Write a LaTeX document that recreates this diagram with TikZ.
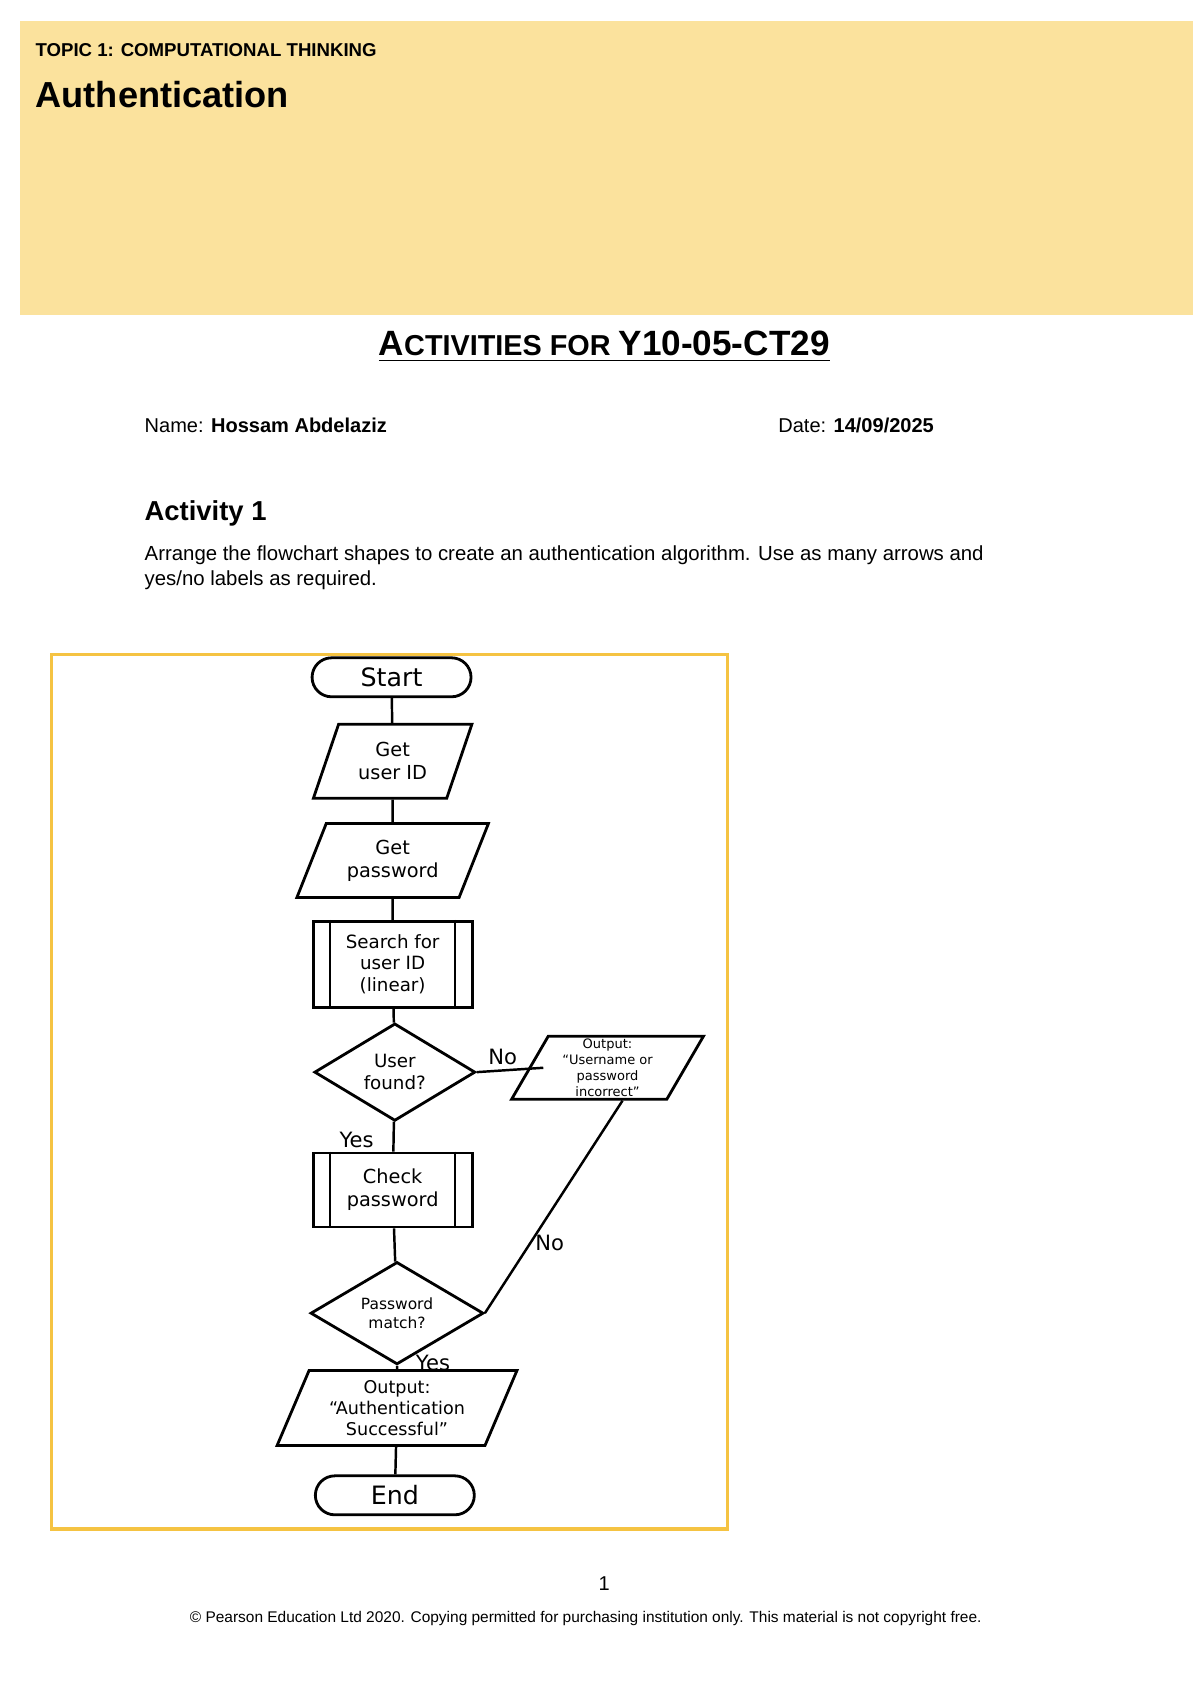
\documentclass[tikz,border=0pt]{standalone}
\usepackage{fontspec}
\setmainfont{Liberation Sans}
\newfontfamily\flowfont{DejaVu Sans}
\usetikzlibrary{shapes.geometric,shapes.misc,positioning}
\definecolor{headyellow}{HTML}{FBE29D}
\definecolor{frameorange}{HTML}{F5C342}
\tikzset{
  line/.style={line width=0.7pt},
  term/.style={rounded rectangle, draw, line width=0.8pt, minimum width=1.59cm, minimum height=0.39cm, inner sep=0pt, font=\flowfont\fontsize{7.2}{8}\selectfont},
  io/.style={trapezium, trapezium stretches=true, draw, line width=0.8pt, inner sep=0pt, align=center, font=\flowfont\fontsize{5.5}{6.6}\selectfont},
  proc/.style={rectangle, draw, line width=0.8pt, minimum width=1.59cm, inner sep=0pt, align=center, font=\flowfont\fontsize{5.2}{6.2}\selectfont},
  dec/.style={diamond, draw, line width=0.8pt, inner sep=0pt, align=center, font=\flowfont\fontsize{5.2}{6.2}\selectfont},
  lbl/.style={inner sep=0pt, font=\flowfont\fontsize{6}{7}\selectfont}
}
\begin{document}
\begin{tikzpicture}[x=0.010909cm, y=-0.010909cm]
\useasboundingbox (0,0) rectangle (1100,1555);
% header
\fill[headyellow] (18,19) rectangle (1094,289);
\node[anchor=west, inner sep=0pt, font=\bfseries\fontsize{5.3}{6}\selectfont] (topic) at (32,46) {TOPIC 1: COMPUTATIONAL THINKING};
\node[anchor=west, inner sep=0pt, font=\bfseries\fontsize{10.3}{12}\selectfont] (title) at (32,87) {Authentication};
\node[inner sep=0pt, font=\bfseries] (act) at (554,318) {\underline{{\fontsize{10}{11}\selectfont A}{\fontsize{8.2}{9}\selectfont CTIVITIES FOR }{\fontsize{10}{11}\selectfont Y10-05-CT29}}};
\node[anchor=west, inner sep=0pt, font=\fontsize{5.7}{7}\selectfont] (name) at (132,390) {Name: \textbf{Hossam Abdelaziz}};
\node[anchor=west, inner sep=0pt, font=\fontsize{5.7}{7}\selectfont] (date) at (713,390) {Date: \textbf{14/09/2025}};
\node[anchor=west, inner sep=0pt, font=\bfseries\fontsize{7.8}{9}\selectfont] (a1) at (132,471) {Activity 1};
\node[anchor=north west, inner sep=0pt, align=left, font=\fontsize{5.8}{6.9}\selectfont] (task) at (132,500) {Arrange the flowchart shapes to create an authentication algorithm. Use as many arrows and\\yes/no labels as required.};
% frame
\draw[frameorange, line width=1pt] (47,600) rectangle (667,1402);
% flowchart
\node[term] (start) at (359,621) {Start};
\node[io, trapezium left angle=67, trapezium right angle=113, minimum width=1.59cm, minimum height=0.74cm] (uid) at (360,698) {Get\\user ID};
\node[io, trapezium left angle=64, trapezium right angle=116, minimum width=1.92cm, minimum height=0.74cm] (pwd) at (360,789) {Get\\password};
\node[proc, minimum height=0.86cm] (search) at (360,884) {Search for\\user ID\\(linear)};
\draw[line] ([xshift=0.185cm]search.north west) -- ([xshift=0.185cm]search.south west);
\draw[line] ([xshift=-0.185cm]search.north east) -- ([xshift=-0.185cm]search.south east);
\node[dec, minimum width=1.61cm, minimum height=0.96cm] (found) at (362,983) {User\\found?};
\node[io, trapezium left angle=64, trapezium right angle=116, minimum width=1.92cm, minimum height=0.63cm, font=\flowfont\fontsize{3.7}{4.5}\selectfont] (err) at (557,979) {Output:\\“Username or\\password\\incorrect”};
\node[proc, minimum height=0.74cm, font=\flowfont\fontsize{5.5}{6.6}\selectfont] (check) at (360,1091) {Check\\password};
\draw[line] ([xshift=0.185cm]check.north west) -- ([xshift=0.185cm]check.south west);
\draw[line] ([xshift=-0.185cm]check.north east) -- ([xshift=-0.185cm]check.south east);
\node[dec, minimum width=1.73cm, minimum height=0.87cm, font=\flowfont\fontsize{4.4}{5.2}\selectfont] (match) at (364,1204) {Password\\match?};
\node[io, trapezium left angle=66, trapezium right angle=114, minimum width=2.41cm, minimum height=0.75cm, font=\flowfont\fontsize{5}{6}\selectfont] (succ) at (364,1291) {Output:\\“Authentication\\Successful”};
\node[term] (end) at (362,1371) {End};
% connectors
\draw[line] (start) -- (uid);
\draw[line] (uid) -- (pwd);
\draw[line] (pwd) -- (search);
\draw[line] (search) -- (found);
\draw[line] (found.east) -- ([xshift=0.15cm]err.west);
\draw[line] (found) -- (check);
\draw[line] (check) -- (match);
\draw[line] (match.east) -- ([xshift=0.15cm]err.south);
\draw[line] (match) -- (succ);
\draw[line] (succ) -- (end);
% labels
\node[lbl] (no1) at (461,969) {No};
\node[lbl] (yes1) at (327,1045) {Yes};
\node[lbl] (no2) at (504,1140) {No};
\node[lbl] (yes2) at (397,1250) {Yes};
% footer
\node[inner sep=0pt, font=\fontsize{5.7}{7}\selectfont] (page) at (554,1452) {1};
\node[inner sep=0pt, font=\fontsize{4.4}{5}\selectfont] (copy) at (537,1484) {\textcopyright\ Pearson Education Ltd 2020. Copying permitted for purchasing institution only. This material is not copyright free.};
\end{tikzpicture}
\end{document}
